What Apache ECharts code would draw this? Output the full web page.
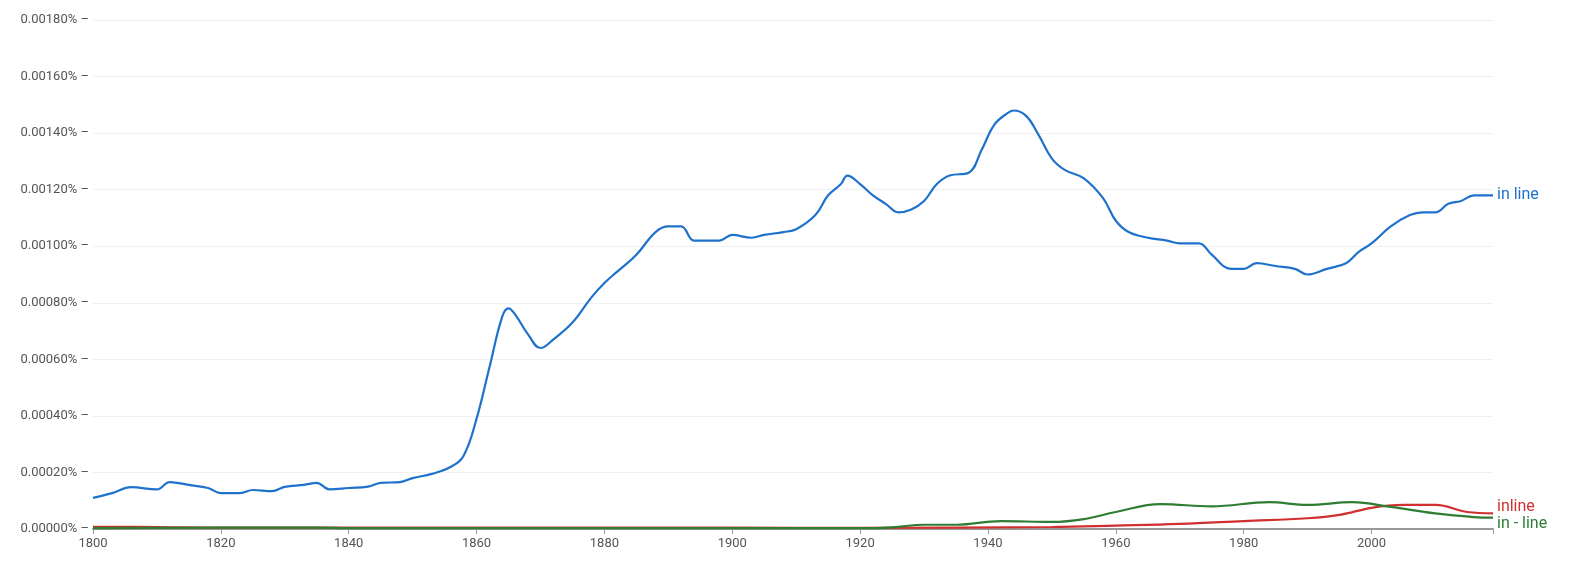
<!DOCTYPE html>
<html><head><meta charset="utf-8">
<script src="https://cdn.jsdelivr.net/npm/echarts@6/dist/echarts.min.js"></script>
<style>html,body{margin:0;padding:0;background:#fff}#c{width:1592px;height:572px}</style>
</head><body><div id="c"></div>
<script>
const inLineYears=[1800,1803,1806,1810,1812,1815,1818,1820,1823,1825,1828,1830,1833,1835,1837,1840,1843,1845,1848,1850,1853,1856,1858,1860,1862,1864,1865,1866,1868,1870,1872,1875,1878,1880,1882,1885,1888,1890,1892,1894,1896,1898,1900,1903,1905,1908,1910,1913,1915,1917,1918,1920,1922,1924,1926,1928,1930,1932,1934,1937,1939,1941,1943,1944,1946,1948,1950,1952,1955,1958,1960,1962,1965,1968,1970,1973,1975,1978,1980,1982,1985,1988,1990,1993,1996,1998,2000,2003,2006,2008,2010,2012,2014,2016,2019];
const inLineVals=[0.00011,0.000127,0.000148,0.00014,0.000166,0.000156,0.000145,0.000127,0.000127,0.000138,0.000134,0.000149,0.000156,0.000163,0.00014,0.000145,0.00015,0.000163,0.000166,0.00018,0.000195,0.00022,0.00026,0.00039,0.00057,0.00075,0.00078,0.00076,0.00069,0.00064,0.00067,0.00073,0.00082,0.00087,0.00091,0.00097,0.00105,0.00107,0.00107,0.00102,0.00102,0.00102,0.00104,0.00103,0.00104,0.00105,0.00106,0.00111,0.00118,0.00122,0.00125,0.00122,0.00118,0.00115,0.00112,0.00113,0.00116,0.00122,0.00125,0.00126,0.00134,0.00143,0.00147,0.00148,0.00146,0.00139,0.00131,0.00127,0.00124,0.00117,0.00109,0.00105,0.00103,0.00102,0.00101,0.00101,0.00097,0.00092,0.00092,0.00094,0.00093,0.00092,0.0009,0.00092,0.00094,0.00098,0.00101,0.00107,0.00111,0.00112,0.00112,0.00115,0.00116,0.00118,0.00118];
const inlineYears=[1800,1810,1820,1850,1900,1920,1950,1960,1970,1980,1990,1995,2000,2005,2010,2015,2019];
const inlineVals=[0.000008,0.000007,0.000005,0.000005,0.000005,0.000004,0.000007,0.000012,0.000018,0.000028,0.000038,0.00005,0.000075,0.000085,0.000085,0.00006,0.000055];
const inDashLineYears=[1800,1830,1835,1840,1900,1920,1925,1930,1935,1942,1950,1955,1960,1967,1975,1984,1990,1997,2003,2010,2016,2019];
const inDashLineVals=[0.000003,0.000005,0.000005,0.000003,0.000003,0.000003,0.000006,0.000015,0.000015,0.000028,0.000025,0.000035,0.00006,0.000088,0.00008,0.000095,0.000085,0.000095,0.000078,0.000055,0.000042,0.00004];
const xTicks=[1800,1820,1840,1860,1880,1900,1920,1940,1960,1980,2000];
const pair=(ys,vs)=>ys.map((y,i)=>[y,vs[i]]);
const mk=(name,ys,vs,color,off)=>({name,type:'line',data:pair(ys,vs),smooth:0.4,symbol:'none',
  lineStyle:{color,width:2.2},itemStyle:{color},
  endLabel:{show:true,formatter:name,color,fontSize:16,fontFamily:'Roboto',distance:4,offset:off}});
const chart=echarts.init(document.getElementById('c'));
chart.setOption({
  animation:false,
  grid:{left:93,right:99,top:20,bottom:43},
  xAxis:{type:'value',min:1800,max:2019,interval:20,
    axisLine:{lineStyle:{color:'#999',width:2}},axisTick:{show:true,lineStyle:{color:'#999'},length:5},
    axisLabel:{color:'#555',fontSize:13,fontFamily:'Roboto',margin:8,
      formatter:v=>xTicks.includes(v)?String(v):''},
    splitLine:{show:false}},
  yAxis:{type:'value',min:0,max:0.0018,interval:0.0002,
    axisLine:{show:false},axisTick:{show:false},
    axisLabel:{color:'#555',fontSize:13,fontFamily:'Roboto',margin:4,
      formatter:v=>v.toFixed(5)+'% –'},
    splitLine:{lineStyle:{color:'#f0f0f0'}}},
  series:[mk('in line',inLineYears,inLineVals,'#1f72cc',[0,0]),
          mk('inline',inlineYears,inlineVals,'#d0302f',[0,-6]),
          mk('in - line',inDashLineYears,inDashLineVals,'#2e7d32',[0,6])]
});
</script></body></html>
